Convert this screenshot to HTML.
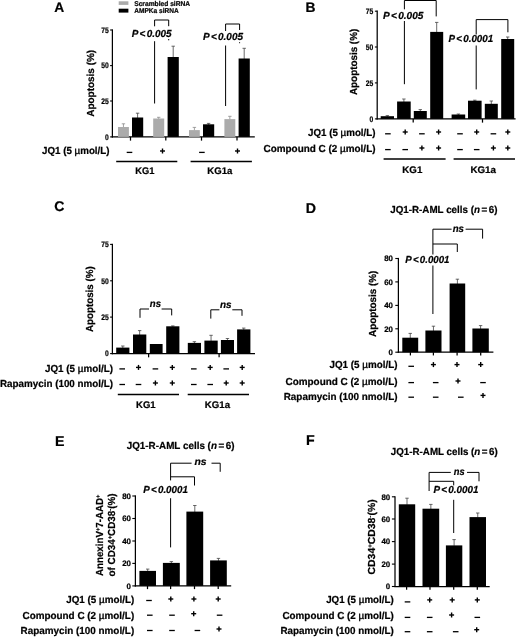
<!DOCTYPE html>
<html lang="en"><head><meta charset="utf-8"><title>Figure</title>
<style>
html,body{margin:0;padding:0;background:#fff;}
svg{display:block;}
text{font-family:"Liberation Sans", sans-serif;fill:#000;text-rendering:geometricPrecision;stroke:#000;stroke-width:0.22px;stroke-linejoin:round;}
</style></head>
<body>
<svg width="520" height="637" viewBox="0 0 520 637">
<rect x="0" y="0" width="520" height="637" fill="#fff"/>
<text x="54.20" y="12.20" font-size="13.8" font-weight="bold">A</text>
<rect x="118.70" y="1.30" width="9.70" height="3.60" fill="#ababab"/>
<rect x="118.70" y="8.70" width="9.70" height="3.90" fill="#000"/>
<text x="134.20" y="5.60" font-size="7" font-weight="bold" textLength="56.00" lengthAdjust="spacingAndGlyphs">Scrambled siRNA</text>
<text x="134.20" y="12.70" font-size="7" font-weight="bold" textLength="44.50" lengthAdjust="spacingAndGlyphs">AMPKa siRNA</text>
<line x1="112.40" y1="29.38" x2="112.40" y2="137.53" stroke="#000" stroke-width="1.25"/>
<line x1="111.78" y1="136.90" x2="254.80" y2="136.90" stroke="#000" stroke-width="1.25"/>
<line x1="110.10" y1="30.00" x2="112.40" y2="30.00" stroke="#000" stroke-width="1.1"/>
<text x="108.80" y="32.88" font-size="8" text-anchor="end" font-weight="bold" textLength="7.50" lengthAdjust="spacingAndGlyphs" stroke-width="0.1">75</text>
<line x1="110.10" y1="65.60" x2="112.40" y2="65.60" stroke="#000" stroke-width="1.1"/>
<text x="108.80" y="68.48" font-size="8" text-anchor="end" font-weight="bold" textLength="7.50" lengthAdjust="spacingAndGlyphs" stroke-width="0.1">50</text>
<line x1="110.10" y1="101.00" x2="112.40" y2="101.00" stroke="#000" stroke-width="1.1"/>
<text x="108.80" y="103.88" font-size="8" text-anchor="end" font-weight="bold" textLength="7.50" lengthAdjust="spacingAndGlyphs" stroke-width="0.1">25</text>
<line x1="110.10" y1="136.90" x2="112.40" y2="136.90" stroke="#000" stroke-width="1.1"/>
<text x="108.80" y="139.78" font-size="8" text-anchor="end" font-weight="bold" textLength="3.75" lengthAdjust="spacingAndGlyphs" stroke-width="0.1">0</text>
<line x1="130.50" y1="136.90" x2="130.50" y2="140.62" stroke="#000" stroke-width="1.25"/>
<line x1="165.80" y1="136.90" x2="165.80" y2="140.62" stroke="#000" stroke-width="1.25"/>
<line x1="201.50" y1="136.90" x2="201.50" y2="140.62" stroke="#000" stroke-width="1.25"/>
<line x1="237.00" y1="136.90" x2="237.00" y2="140.62" stroke="#000" stroke-width="1.25"/>
<text x="94.30" y="83.30" font-size="10.2" text-anchor="middle" font-weight="bold" textLength="66.90" lengthAdjust="spacingAndGlyphs" transform="rotate(-90 94.30 83.30)">Apoptosis (%)</text>
<line x1="123.45" y1="123.80" x2="123.45" y2="127.50" stroke="#8c8c8c" stroke-width="0.8"/>
<line x1="121.75" y1="123.80" x2="125.15" y2="123.80" stroke="#8c8c8c" stroke-width="0.8"/>
<rect x="118.00" y="127.00" width="10.90" height="9.90" fill="#ababab"/>
<line x1="137.60" y1="113.20" x2="137.60" y2="118.00" stroke="#444" stroke-width="0.8"/>
<line x1="135.90" y1="113.20" x2="139.30" y2="113.20" stroke="#444" stroke-width="0.8"/>
<rect x="132.00" y="117.50" width="11.20" height="19.40" fill="#000"/>
<line x1="158.70" y1="117.30" x2="158.70" y2="119.00" stroke="#8c8c8c" stroke-width="0.8"/>
<line x1="157.00" y1="117.30" x2="160.40" y2="117.30" stroke="#8c8c8c" stroke-width="0.8"/>
<rect x="153.20" y="118.50" width="11.00" height="18.40" fill="#ababab"/>
<line x1="173.20" y1="46.20" x2="173.20" y2="57.50" stroke="#444" stroke-width="0.8"/>
<line x1="171.50" y1="46.20" x2="174.90" y2="46.20" stroke="#444" stroke-width="0.8"/>
<rect x="167.60" y="57.00" width="11.20" height="79.90" fill="#000"/>
<line x1="194.40" y1="127.40" x2="194.40" y2="130.60" stroke="#8c8c8c" stroke-width="0.8"/>
<line x1="192.70" y1="127.40" x2="196.10" y2="127.40" stroke="#8c8c8c" stroke-width="0.8"/>
<rect x="189.00" y="130.10" width="10.80" height="6.80" fill="#ababab"/>
<line x1="208.60" y1="123.40" x2="208.60" y2="124.80" stroke="#444" stroke-width="0.8"/>
<line x1="206.90" y1="123.40" x2="210.30" y2="123.40" stroke="#444" stroke-width="0.8"/>
<rect x="203.00" y="124.30" width="11.20" height="12.60" fill="#000"/>
<line x1="229.85" y1="116.30" x2="229.85" y2="119.60" stroke="#8c8c8c" stroke-width="0.8"/>
<line x1="228.15" y1="116.30" x2="231.55" y2="116.30" stroke="#8c8c8c" stroke-width="0.8"/>
<rect x="224.40" y="119.10" width="10.90" height="17.80" fill="#ababab"/>
<line x1="244.20" y1="48.30" x2="244.20" y2="59.00" stroke="#444" stroke-width="0.8"/>
<line x1="242.50" y1="48.30" x2="245.90" y2="48.30" stroke="#444" stroke-width="0.8"/>
<rect x="238.60" y="58.50" width="11.20" height="78.40" fill="#000"/>
<polyline points="154.60,103.50 154.60,20.00 168.70,20.00 168.70,26.60" fill="none" stroke="#000" stroke-width="1.0"/>
<rect x="131.00" y="26.30" width="41.00" height="14.90" fill="#fff"/>
<text x="131.70" y="36.60" font-size="10.2" font-weight="bold" font-style="italic" textLength="39.80" lengthAdjust="spacingAndGlyphs">P<tspan dx="1.3">&lt;</tspan><tspan dx="1.3">0.005</tspan></text>
<rect x="168.20" y="39.00" width="1.00" height="1.30" fill="#000"/>
<polyline points="225.60,106.00 225.60,24.00 239.60,24.00 239.60,30.00" fill="none" stroke="#000" stroke-width="1.0"/>
<rect x="202.00" y="31.00" width="42.00" height="14.50" fill="#fff"/>
<text x="203.00" y="39.80" font-size="10.2" font-weight="bold" font-style="italic" textLength="40.00" lengthAdjust="spacingAndGlyphs">P<tspan dx="1.3">&lt;</tspan><tspan dx="1.3">0.005</tspan></text>
<rect x="239.10" y="42.20" width="1.00" height="1.00" fill="#000"/>
<text x="42.00" y="154.30" font-size="10.2" font-weight="bold" textLength="67.50" lengthAdjust="spacingAndGlyphs">JQ1 (5 <tspan font-weight="normal" stroke-width="0.4">µ</tspan>mol/L)</text>
<line x1="126.70" y1="152.40" x2="132.30" y2="152.40" stroke="#000" stroke-width="1.3"/>
<line x1="160.00" y1="151.00" x2="165.00" y2="151.00" stroke="#000" stroke-width="1.4"/>
<line x1="162.50" y1="148.50" x2="162.50" y2="153.50" stroke="#000" stroke-width="1.4"/>
<line x1="199.10" y1="152.40" x2="204.70" y2="152.40" stroke="#000" stroke-width="1.3"/>
<line x1="235.00" y1="151.00" x2="240.00" y2="151.00" stroke="#000" stroke-width="1.4"/>
<line x1="237.50" y1="148.50" x2="237.50" y2="153.50" stroke="#000" stroke-width="1.4"/>
<line x1="116.20" y1="161.50" x2="177.30" y2="161.50" stroke="#000" stroke-width="1.6"/>
<line x1="190.60" y1="161.50" x2="251.90" y2="161.50" stroke="#000" stroke-width="1.6"/>
<text x="135.20" y="173.70" font-size="9.6" font-weight="bold" textLength="19.20" lengthAdjust="spacingAndGlyphs">KG1</text>
<text x="207.30" y="173.70" font-size="9.6" font-weight="bold" textLength="25.00" lengthAdjust="spacingAndGlyphs">KG1a</text>
<text x="305.60" y="12.10" font-size="13.8" font-weight="bold">B</text>
<line x1="377.20" y1="10.57" x2="377.20" y2="119.53" stroke="#000" stroke-width="1.25"/>
<line x1="376.57" y1="118.90" x2="515.60" y2="118.90" stroke="#000" stroke-width="1.25"/>
<line x1="374.90" y1="11.20" x2="377.20" y2="11.20" stroke="#000" stroke-width="1.1"/>
<text x="373.30" y="14.08" font-size="8" text-anchor="end" font-weight="bold" textLength="7.50" lengthAdjust="spacingAndGlyphs" stroke-width="0.1">75</text>
<line x1="374.90" y1="47.00" x2="377.20" y2="47.00" stroke="#000" stroke-width="1.1"/>
<text x="373.30" y="49.88" font-size="8" text-anchor="end" font-weight="bold" textLength="7.50" lengthAdjust="spacingAndGlyphs" stroke-width="0.1">50</text>
<line x1="374.90" y1="82.90" x2="377.20" y2="82.90" stroke="#000" stroke-width="1.1"/>
<text x="373.30" y="85.78" font-size="8" text-anchor="end" font-weight="bold" textLength="7.50" lengthAdjust="spacingAndGlyphs" stroke-width="0.1">25</text>
<line x1="374.90" y1="118.90" x2="377.20" y2="118.90" stroke="#000" stroke-width="1.1"/>
<text x="373.30" y="121.78" font-size="8" text-anchor="end" font-weight="bold" textLength="3.75" lengthAdjust="spacingAndGlyphs" stroke-width="0.1">0</text>
<line x1="413.20" y1="118.90" x2="413.20" y2="122.62" stroke="#000" stroke-width="1.25"/>
<line x1="482.50" y1="118.90" x2="482.50" y2="122.62" stroke="#000" stroke-width="1.25"/>
<text x="357.30" y="61.90" font-size="10.2" text-anchor="middle" font-weight="bold" textLength="66.20" lengthAdjust="spacingAndGlyphs" transform="rotate(-90 357.30 61.90)">Apoptosis (%)</text>
<line x1="387.35" y1="115.60" x2="387.35" y2="116.70" stroke="#444" stroke-width="0.8"/>
<line x1="385.65" y1="115.60" x2="389.05" y2="115.60" stroke="#444" stroke-width="0.8"/>
<rect x="380.70" y="116.20" width="13.30" height="2.70" fill="#000"/>
<line x1="403.90" y1="99.00" x2="403.90" y2="102.00" stroke="#444" stroke-width="0.8"/>
<line x1="402.20" y1="99.00" x2="405.60" y2="99.00" stroke="#444" stroke-width="0.8"/>
<rect x="397.10" y="101.50" width="13.60" height="17.40" fill="#000"/>
<line x1="420.30" y1="109.60" x2="420.30" y2="111.50" stroke="#444" stroke-width="0.8"/>
<line x1="418.60" y1="109.60" x2="422.00" y2="109.60" stroke="#444" stroke-width="0.8"/>
<rect x="413.80" y="111.00" width="13.00" height="7.90" fill="#000"/>
<line x1="436.70" y1="22.40" x2="436.70" y2="32.40" stroke="#444" stroke-width="0.8"/>
<line x1="435.00" y1="22.40" x2="438.40" y2="22.40" stroke="#444" stroke-width="0.8"/>
<rect x="430.20" y="31.90" width="13.00" height="87.00" fill="#000"/>
<line x1="458.40" y1="114.00" x2="458.40" y2="115.00" stroke="#444" stroke-width="0.8"/>
<line x1="456.70" y1="114.00" x2="460.10" y2="114.00" stroke="#444" stroke-width="0.8"/>
<rect x="451.60" y="114.50" width="13.60" height="4.40" fill="#000"/>
<line x1="474.80" y1="100.20" x2="474.80" y2="101.20" stroke="#444" stroke-width="0.8"/>
<line x1="473.10" y1="100.20" x2="476.50" y2="100.20" stroke="#444" stroke-width="0.8"/>
<rect x="468.00" y="100.70" width="13.60" height="18.20" fill="#000"/>
<line x1="491.30" y1="101.00" x2="491.30" y2="104.30" stroke="#444" stroke-width="0.8"/>
<line x1="489.60" y1="101.00" x2="493.00" y2="101.00" stroke="#444" stroke-width="0.8"/>
<rect x="484.80" y="103.80" width="13.00" height="15.10" fill="#000"/>
<line x1="507.70" y1="37.00" x2="507.70" y2="39.50" stroke="#444" stroke-width="0.8"/>
<line x1="506.00" y1="37.00" x2="509.40" y2="37.00" stroke="#444" stroke-width="0.8"/>
<rect x="501.20" y="39.00" width="13.00" height="79.90" fill="#000"/>
<polyline points="404.40,84.20 404.40,0.50 436.20,0.50 436.20,16.40" fill="none" stroke="#000" stroke-width="1.0"/>
<rect x="382.00" y="9.30" width="42.50" height="11.70" fill="#fff"/>
<text x="383.00" y="18.70" font-size="10.2" font-weight="bold" font-style="italic" textLength="40.40" lengthAdjust="spacingAndGlyphs">P<tspan dx="1.3">&lt;</tspan><tspan dx="1.3">0.005</tspan></text>
<polyline points="476.20,89.40 476.20,19.60 507.90,19.60 507.90,32.30" fill="none" stroke="#000" stroke-width="1.0"/>
<rect x="447.50" y="34.50" width="46.50" height="11.00" fill="#fff"/>
<text x="448.50" y="42.40" font-size="10.2" font-weight="bold" font-style="italic" textLength="44.70" lengthAdjust="spacingAndGlyphs">P<tspan dx="1.3">&lt;</tspan><tspan dx="1.3">0.0001</tspan></text>
<text x="308.00" y="136.30" font-size="10.2" font-weight="bold" textLength="67.50" lengthAdjust="spacingAndGlyphs">JQ1 (5 <tspan font-weight="normal" stroke-width="0.4">µ</tspan>mol/L)</text>
<text x="263.50" y="151.80" font-size="10.2" font-weight="bold" textLength="112.00" lengthAdjust="spacingAndGlyphs">Compound C (2 <tspan font-weight="normal" stroke-width="0.4">µ</tspan>mol/L)</text>
<line x1="385.10" y1="133.80" x2="390.70" y2="133.80" stroke="#000" stroke-width="1.3"/>
<line x1="385.10" y1="149.60" x2="390.70" y2="149.60" stroke="#000" stroke-width="1.3"/>
<line x1="402.70" y1="132.00" x2="407.70" y2="132.00" stroke="#000" stroke-width="1.4"/>
<line x1="405.20" y1="129.50" x2="405.20" y2="134.50" stroke="#000" stroke-width="1.4"/>
<line x1="402.40" y1="149.60" x2="408.00" y2="149.60" stroke="#000" stroke-width="1.3"/>
<line x1="419.10" y1="133.80" x2="424.70" y2="133.80" stroke="#000" stroke-width="1.3"/>
<line x1="419.40" y1="148.00" x2="424.40" y2="148.00" stroke="#000" stroke-width="1.4"/>
<line x1="421.90" y1="145.50" x2="421.90" y2="150.50" stroke="#000" stroke-width="1.4"/>
<line x1="436.10" y1="132.00" x2="441.10" y2="132.00" stroke="#000" stroke-width="1.4"/>
<line x1="438.60" y1="129.50" x2="438.60" y2="134.50" stroke="#000" stroke-width="1.4"/>
<line x1="436.10" y1="148.00" x2="441.10" y2="148.00" stroke="#000" stroke-width="1.4"/>
<line x1="438.60" y1="145.50" x2="438.60" y2="150.50" stroke="#000" stroke-width="1.4"/>
<line x1="457.20" y1="133.80" x2="462.80" y2="133.80" stroke="#000" stroke-width="1.3"/>
<line x1="457.20" y1="149.60" x2="462.80" y2="149.60" stroke="#000" stroke-width="1.3"/>
<line x1="474.20" y1="132.00" x2="479.20" y2="132.00" stroke="#000" stroke-width="1.4"/>
<line x1="476.70" y1="129.50" x2="476.70" y2="134.50" stroke="#000" stroke-width="1.4"/>
<line x1="473.90" y1="149.60" x2="479.50" y2="149.60" stroke="#000" stroke-width="1.3"/>
<line x1="490.60" y1="133.80" x2="496.20" y2="133.80" stroke="#000" stroke-width="1.3"/>
<line x1="490.90" y1="148.00" x2="495.90" y2="148.00" stroke="#000" stroke-width="1.4"/>
<line x1="493.40" y1="145.50" x2="493.40" y2="150.50" stroke="#000" stroke-width="1.4"/>
<line x1="505.30" y1="132.00" x2="510.30" y2="132.00" stroke="#000" stroke-width="1.4"/>
<line x1="507.80" y1="129.50" x2="507.80" y2="134.50" stroke="#000" stroke-width="1.4"/>
<line x1="505.30" y1="148.00" x2="510.30" y2="148.00" stroke="#000" stroke-width="1.4"/>
<line x1="507.80" y1="145.50" x2="507.80" y2="150.50" stroke="#000" stroke-width="1.4"/>
<line x1="383.60" y1="159.00" x2="445.60" y2="159.00" stroke="#000" stroke-width="1.5"/>
<line x1="453.60" y1="159.00" x2="515.00" y2="159.00" stroke="#000" stroke-width="1.5"/>
<text x="402.30" y="172.90" font-size="9.6" font-weight="bold" textLength="20.00" lengthAdjust="spacingAndGlyphs">KG1</text>
<text x="470.40" y="172.90" font-size="9.6" font-weight="bold" textLength="25.60" lengthAdjust="spacingAndGlyphs">KG1a</text>
<text x="54.30" y="210.70" font-size="14.0" font-weight="bold">C</text>
<line x1="112.40" y1="243.78" x2="112.40" y2="354.23" stroke="#000" stroke-width="1.25"/>
<line x1="111.78" y1="353.60" x2="255.00" y2="353.60" stroke="#000" stroke-width="1.25"/>
<line x1="110.10" y1="244.40" x2="112.40" y2="244.40" stroke="#000" stroke-width="1.1"/>
<text x="108.80" y="247.28" font-size="8" text-anchor="end" font-weight="bold" textLength="7.50" lengthAdjust="spacingAndGlyphs" stroke-width="0.1">75</text>
<line x1="110.10" y1="280.80" x2="112.40" y2="280.80" stroke="#000" stroke-width="1.1"/>
<text x="108.80" y="283.68" font-size="8" text-anchor="end" font-weight="bold" textLength="7.50" lengthAdjust="spacingAndGlyphs" stroke-width="0.1">50</text>
<line x1="110.10" y1="317.10" x2="112.40" y2="317.10" stroke="#000" stroke-width="1.1"/>
<text x="108.80" y="319.98" font-size="8" text-anchor="end" font-weight="bold" textLength="7.50" lengthAdjust="spacingAndGlyphs" stroke-width="0.1">25</text>
<line x1="110.10" y1="353.60" x2="112.40" y2="353.60" stroke="#000" stroke-width="1.1"/>
<text x="108.80" y="356.48" font-size="8" text-anchor="end" font-weight="bold" textLength="3.75" lengthAdjust="spacingAndGlyphs" stroke-width="0.1">0</text>
<line x1="148.60" y1="353.60" x2="148.60" y2="357.33" stroke="#000" stroke-width="1.25"/>
<line x1="219.10" y1="353.60" x2="219.10" y2="357.33" stroke="#000" stroke-width="1.25"/>
<text x="92.90" y="299.20" font-size="10.2" text-anchor="middle" font-weight="bold" textLength="65.80" lengthAdjust="spacingAndGlyphs" transform="rotate(-90 92.90 299.20)">Apoptosis (%)</text>
<line x1="122.80" y1="346.00" x2="122.80" y2="348.10" stroke="#444" stroke-width="0.8"/>
<line x1="121.10" y1="346.00" x2="124.50" y2="346.00" stroke="#444" stroke-width="0.8"/>
<rect x="116.20" y="347.60" width="13.20" height="6.00" fill="#000"/>
<line x1="139.65" y1="330.60" x2="139.65" y2="335.00" stroke="#444" stroke-width="0.8"/>
<line x1="137.95" y1="330.60" x2="141.35" y2="330.60" stroke="#444" stroke-width="0.8"/>
<rect x="133.00" y="334.50" width="13.30" height="19.10" fill="#000"/>
<rect x="149.80" y="344.00" width="12.80" height="9.60" fill="#000"/>
<line x1="172.80" y1="325.90" x2="172.80" y2="326.80" stroke="#444" stroke-width="0.8"/>
<line x1="171.10" y1="325.90" x2="174.50" y2="325.90" stroke="#444" stroke-width="0.8"/>
<rect x="166.20" y="326.30" width="13.20" height="27.30" fill="#000"/>
<line x1="194.40" y1="341.70" x2="194.40" y2="343.40" stroke="#444" stroke-width="0.8"/>
<line x1="192.70" y1="341.70" x2="196.10" y2="341.70" stroke="#444" stroke-width="0.8"/>
<rect x="187.80" y="342.90" width="13.20" height="10.70" fill="#000"/>
<line x1="211.05" y1="335.30" x2="211.05" y2="341.10" stroke="#444" stroke-width="0.8"/>
<line x1="209.35" y1="335.30" x2="212.75" y2="335.30" stroke="#444" stroke-width="0.8"/>
<rect x="204.40" y="340.60" width="13.30" height="13.00" fill="#000"/>
<line x1="227.45" y1="338.50" x2="227.45" y2="340.50" stroke="#444" stroke-width="0.8"/>
<line x1="225.75" y1="338.50" x2="229.15" y2="338.50" stroke="#444" stroke-width="0.8"/>
<rect x="220.90" y="340.00" width="13.10" height="13.60" fill="#000"/>
<line x1="243.75" y1="328.10" x2="243.75" y2="329.90" stroke="#444" stroke-width="0.8"/>
<line x1="242.05" y1="328.10" x2="245.45" y2="328.10" stroke="#444" stroke-width="0.8"/>
<rect x="237.10" y="329.40" width="13.30" height="24.20" fill="#000"/>
<polyline points="140.00,317.80 140.00,309.00 149.00,309.00" fill="none" stroke="#000" stroke-width="1.0"/>
<polyline points="161.60,309.00 171.70,309.00 171.70,315.40" fill="none" stroke="#000" stroke-width="1.0"/>
<text x="149.80" y="307.40" font-size="10.2" font-weight="bold" font-style="italic" textLength="11.20" lengthAdjust="spacingAndGlyphs">ns</text>
<polyline points="210.80,318.60 210.80,309.80 219.40,309.80" fill="none" stroke="#000" stroke-width="1.0"/>
<polyline points="232.30,309.80 242.00,309.80 242.00,315.80" fill="none" stroke="#000" stroke-width="1.0"/>
<text x="220.00" y="308.30" font-size="10.2" font-weight="bold" font-style="italic" textLength="11.60" lengthAdjust="spacingAndGlyphs">ns</text>
<text x="45.00" y="371.60" font-size="10.2" font-weight="bold" textLength="68.00" lengthAdjust="spacingAndGlyphs">JQ1 (5 <tspan font-weight="normal" stroke-width="0.4">µ</tspan>mol/L)</text>
<text x="0.00" y="387.00" font-size="10.2" font-weight="bold" textLength="113.00" lengthAdjust="spacingAndGlyphs">Rapamycin (100 nmol/L)</text>
<line x1="119.40" y1="368.90" x2="125.00" y2="368.90" stroke="#000" stroke-width="1.3"/>
<line x1="119.40" y1="384.50" x2="125.00" y2="384.50" stroke="#000" stroke-width="1.3"/>
<line x1="136.00" y1="367.40" x2="141.00" y2="367.40" stroke="#000" stroke-width="1.4"/>
<line x1="138.50" y1="364.90" x2="138.50" y2="369.90" stroke="#000" stroke-width="1.4"/>
<line x1="135.70" y1="384.50" x2="141.30" y2="384.50" stroke="#000" stroke-width="1.3"/>
<line x1="152.60" y1="368.90" x2="158.20" y2="368.90" stroke="#000" stroke-width="1.3"/>
<line x1="152.90" y1="383.00" x2="157.90" y2="383.00" stroke="#000" stroke-width="1.4"/>
<line x1="155.40" y1="380.50" x2="155.40" y2="385.50" stroke="#000" stroke-width="1.4"/>
<line x1="169.80" y1="367.40" x2="174.80" y2="367.40" stroke="#000" stroke-width="1.4"/>
<line x1="172.30" y1="364.90" x2="172.30" y2="369.90" stroke="#000" stroke-width="1.4"/>
<line x1="169.80" y1="383.00" x2="174.80" y2="383.00" stroke="#000" stroke-width="1.4"/>
<line x1="172.30" y1="380.50" x2="172.30" y2="385.50" stroke="#000" stroke-width="1.4"/>
<line x1="191.00" y1="368.90" x2="196.60" y2="368.90" stroke="#000" stroke-width="1.3"/>
<line x1="191.00" y1="384.50" x2="196.60" y2="384.50" stroke="#000" stroke-width="1.3"/>
<line x1="207.70" y1="367.40" x2="212.70" y2="367.40" stroke="#000" stroke-width="1.4"/>
<line x1="210.20" y1="364.90" x2="210.20" y2="369.90" stroke="#000" stroke-width="1.4"/>
<line x1="207.40" y1="384.50" x2="213.00" y2="384.50" stroke="#000" stroke-width="1.3"/>
<line x1="223.40" y1="368.90" x2="229.00" y2="368.90" stroke="#000" stroke-width="1.3"/>
<line x1="223.70" y1="383.00" x2="228.70" y2="383.00" stroke="#000" stroke-width="1.4"/>
<line x1="226.20" y1="380.50" x2="226.20" y2="385.50" stroke="#000" stroke-width="1.4"/>
<line x1="239.70" y1="367.40" x2="244.70" y2="367.40" stroke="#000" stroke-width="1.4"/>
<line x1="242.20" y1="364.90" x2="242.20" y2="369.90" stroke="#000" stroke-width="1.4"/>
<line x1="239.70" y1="383.00" x2="244.70" y2="383.00" stroke="#000" stroke-width="1.4"/>
<line x1="242.20" y1="380.50" x2="242.20" y2="385.50" stroke="#000" stroke-width="1.4"/>
<line x1="117.80" y1="394.40" x2="179.00" y2="394.40" stroke="#000" stroke-width="1.5"/>
<line x1="187.70" y1="394.40" x2="249.00" y2="394.40" stroke="#000" stroke-width="1.5"/>
<text x="136.00" y="407.70" font-size="9.6" font-weight="bold" textLength="19.60" lengthAdjust="spacingAndGlyphs">KG1</text>
<text x="204.80" y="407.70" font-size="9.6" font-weight="bold" textLength="25.20" lengthAdjust="spacingAndGlyphs">KG1a</text>
<text x="305.70" y="212.80" font-size="14.2" font-weight="bold">D</text>
<text x="390.20" y="213.00" font-size="10.2" font-weight="bold" textLength="107.30" lengthAdjust="spacingAndGlyphs">JQ1-R-AML cells (<tspan font-style="italic">n</tspan><tspan dx="1.6">=</tspan><tspan dx="1.6">6)</tspan></text>
<line x1="398.40" y1="257.88" x2="398.40" y2="352.82" stroke="#000" stroke-width="1.25"/>
<line x1="397.77" y1="352.20" x2="493.40" y2="352.20" stroke="#000" stroke-width="1.25"/>
<line x1="395.30" y1="258.50" x2="398.40" y2="258.50" stroke="#000" stroke-width="1.1"/>
<text x="393.00" y="261.34" font-size="7.9" text-anchor="end" font-weight="bold" stroke-width="0.1">80</text>
<line x1="395.30" y1="281.90" x2="398.40" y2="281.90" stroke="#000" stroke-width="1.1"/>
<text x="393.00" y="284.74" font-size="7.9" text-anchor="end" font-weight="bold" stroke-width="0.1">60</text>
<line x1="395.30" y1="305.40" x2="398.40" y2="305.40" stroke="#000" stroke-width="1.1"/>
<text x="393.00" y="308.24" font-size="7.9" text-anchor="end" font-weight="bold" stroke-width="0.1">40</text>
<line x1="395.30" y1="328.80" x2="398.40" y2="328.80" stroke="#000" stroke-width="1.1"/>
<text x="393.00" y="331.64" font-size="7.9" text-anchor="end" font-weight="bold" stroke-width="0.1">20</text>
<line x1="395.30" y1="352.20" x2="398.40" y2="352.20" stroke="#000" stroke-width="1.1"/>
<text x="393.00" y="355.04" font-size="7.9" text-anchor="end" font-weight="bold" stroke-width="0.1">0</text>
<line x1="410.40" y1="352.20" x2="410.40" y2="355.43" stroke="#000" stroke-width="1.25"/>
<line x1="433.40" y1="352.20" x2="433.40" y2="355.43" stroke="#000" stroke-width="1.25"/>
<line x1="457.10" y1="352.20" x2="457.10" y2="355.43" stroke="#000" stroke-width="1.25"/>
<line x1="480.70" y1="352.20" x2="480.70" y2="355.43" stroke="#000" stroke-width="1.25"/>
<text x="375.70" y="303.80" font-size="10.2" text-anchor="middle" font-weight="bold" textLength="66.40" lengthAdjust="spacingAndGlyphs" transform="rotate(-90 375.70 303.80)">Apoptosis (%)</text>
<line x1="410.25" y1="333.40" x2="410.25" y2="338.20" stroke="#444" stroke-width="0.8"/>
<line x1="408.55" y1="333.40" x2="411.95" y2="333.40" stroke="#444" stroke-width="0.8"/>
<rect x="402.30" y="337.70" width="15.90" height="14.50" fill="#000"/>
<line x1="433.45" y1="326.20" x2="433.45" y2="331.00" stroke="#444" stroke-width="0.8"/>
<line x1="431.75" y1="326.20" x2="435.15" y2="326.20" stroke="#444" stroke-width="0.8"/>
<rect x="425.40" y="330.50" width="16.10" height="21.70" fill="#000"/>
<line x1="457.40" y1="279.20" x2="457.40" y2="284.00" stroke="#444" stroke-width="0.8"/>
<line x1="455.70" y1="279.20" x2="459.10" y2="279.20" stroke="#444" stroke-width="0.8"/>
<rect x="449.60" y="283.50" width="15.60" height="68.70" fill="#000"/>
<line x1="480.60" y1="325.60" x2="480.60" y2="329.00" stroke="#444" stroke-width="0.8"/>
<line x1="478.90" y1="325.60" x2="482.30" y2="325.60" stroke="#444" stroke-width="0.8"/>
<rect x="472.40" y="328.50" width="16.40" height="23.70" fill="#000"/>
<polyline points="432.90,314.00 432.90,229.20 451.60,229.20" fill="none" stroke="#000" stroke-width="1.0"/>
<polyline points="465.60,229.20 482.60,229.20 482.60,238.60" fill="none" stroke="#000" stroke-width="1.0"/>
<polyline points="432.90,244.00 457.30,244.00 457.30,252.00" fill="none" stroke="#000" stroke-width="1.0"/>
<text x="452.70" y="231.60" font-size="10.2" font-weight="bold" font-style="italic" textLength="11.30" lengthAdjust="spacingAndGlyphs">ns</text>
<rect x="404.50" y="254.50" width="45.50" height="11.00" fill="#fff"/>
<text x="405.20" y="263.30" font-size="10.2" font-weight="bold" font-style="italic" textLength="44.30" lengthAdjust="spacingAndGlyphs">P<tspan dx="1.3">&lt;</tspan><tspan dx="1.3">0.0001</tspan></text>
<text x="329.50" y="368.30" font-size="10.2" font-weight="bold" textLength="68.00" lengthAdjust="spacingAndGlyphs">JQ1 (5 <tspan font-weight="normal" stroke-width="0.4">µ</tspan>mol/L)</text>
<text x="285.50" y="384.50" font-size="10.2" font-weight="bold" textLength="112.00" lengthAdjust="spacingAndGlyphs">Compound C (2 <tspan font-weight="normal" stroke-width="0.4">µ</tspan>mol/L)</text>
<text x="283.70" y="400.40" font-size="10.2" font-weight="bold" textLength="113.80" lengthAdjust="spacingAndGlyphs">Rapamycin (100 nmol/L)</text>
<line x1="408.40" y1="366.30" x2="414.00" y2="366.30" stroke="#000" stroke-width="1.3"/>
<line x1="430.90" y1="364.60" x2="435.90" y2="364.60" stroke="#000" stroke-width="1.4"/>
<line x1="433.40" y1="362.10" x2="433.40" y2="367.10" stroke="#000" stroke-width="1.4"/>
<line x1="454.50" y1="364.60" x2="459.50" y2="364.60" stroke="#000" stroke-width="1.4"/>
<line x1="457.00" y1="362.10" x2="457.00" y2="367.10" stroke="#000" stroke-width="1.4"/>
<line x1="478.20" y1="364.60" x2="483.20" y2="364.60" stroke="#000" stroke-width="1.4"/>
<line x1="480.70" y1="362.10" x2="480.70" y2="367.10" stroke="#000" stroke-width="1.4"/>
<line x1="408.40" y1="382.60" x2="414.00" y2="382.60" stroke="#000" stroke-width="1.3"/>
<line x1="432.90" y1="382.60" x2="438.50" y2="382.60" stroke="#000" stroke-width="1.3"/>
<line x1="455.50" y1="381.00" x2="460.50" y2="381.00" stroke="#000" stroke-width="1.4"/>
<line x1="458.00" y1="378.50" x2="458.00" y2="383.50" stroke="#000" stroke-width="1.4"/>
<line x1="480.20" y1="382.60" x2="485.80" y2="382.60" stroke="#000" stroke-width="1.3"/>
<line x1="408.40" y1="397.20" x2="414.00" y2="397.20" stroke="#000" stroke-width="1.3"/>
<line x1="432.90" y1="397.20" x2="438.50" y2="397.20" stroke="#000" stroke-width="1.3"/>
<line x1="458.00" y1="397.20" x2="463.60" y2="397.20" stroke="#000" stroke-width="1.3"/>
<line x1="480.50" y1="395.40" x2="485.50" y2="395.40" stroke="#000" stroke-width="1.4"/>
<line x1="483.00" y1="392.90" x2="483.00" y2="397.90" stroke="#000" stroke-width="1.4"/>
<text x="55.00" y="445.80" font-size="14.2" font-weight="bold">E</text>
<text x="126.70" y="448.50" font-size="10.2" font-weight="bold" textLength="107.90" lengthAdjust="spacingAndGlyphs">JQ1-R-AML cells (<tspan font-style="italic">n</tspan><tspan dx="1.6">=</tspan><tspan dx="1.6">6)</tspan></text>
<line x1="135.40" y1="495.38" x2="135.40" y2="586.52" stroke="#000" stroke-width="1.25"/>
<line x1="134.78" y1="585.90" x2="231.20" y2="585.90" stroke="#000" stroke-width="1.25"/>
<line x1="132.30" y1="496.00" x2="135.40" y2="496.00" stroke="#000" stroke-width="1.1"/>
<text x="131.00" y="498.84" font-size="7.9" text-anchor="end" font-weight="bold" stroke-width="0.1">80</text>
<line x1="132.30" y1="518.50" x2="135.40" y2="518.50" stroke="#000" stroke-width="1.1"/>
<text x="131.00" y="521.34" font-size="7.9" text-anchor="end" font-weight="bold" stroke-width="0.1">60</text>
<line x1="132.30" y1="541.00" x2="135.40" y2="541.00" stroke="#000" stroke-width="1.1"/>
<text x="131.00" y="543.84" font-size="7.9" text-anchor="end" font-weight="bold" stroke-width="0.1">40</text>
<line x1="132.30" y1="563.40" x2="135.40" y2="563.40" stroke="#000" stroke-width="1.1"/>
<text x="131.00" y="566.24" font-size="7.9" text-anchor="end" font-weight="bold" stroke-width="0.1">20</text>
<line x1="132.30" y1="585.90" x2="135.40" y2="585.90" stroke="#000" stroke-width="1.1"/>
<text x="131.00" y="588.74" font-size="7.9" text-anchor="end" font-weight="bold" stroke-width="0.1">0</text>
<line x1="147.50" y1="585.90" x2="147.50" y2="589.12" stroke="#000" stroke-width="1.25"/>
<line x1="170.60" y1="585.90" x2="170.60" y2="589.12" stroke="#000" stroke-width="1.25"/>
<line x1="194.50" y1="585.90" x2="194.50" y2="589.12" stroke="#000" stroke-width="1.25"/>
<line x1="218.20" y1="585.90" x2="218.20" y2="589.12" stroke="#000" stroke-width="1.25"/>
<text x="103.40" y="535.30" font-size="10.2" text-anchor="middle" font-weight="bold" textLength="81.40" lengthAdjust="spacingAndGlyphs" transform="rotate(-90 103.40 535.30)">AnnexinV<tspan baseline-shift="super" font-size="6">+</tspan>7-AAD<tspan baseline-shift="super" font-size="6">+</tspan></text>
<text x="114.60" y="535.00" font-size="10.2" text-anchor="middle" font-weight="bold" textLength="83.00" lengthAdjust="spacingAndGlyphs" transform="rotate(-90 114.60 535.00)">of CD34<tspan baseline-shift="super" font-size="6">+</tspan>CD38<tspan baseline-shift="super" font-size="6">-</tspan>(%)</text>
<line x1="147.70" y1="569.10" x2="147.70" y2="571.40" stroke="#444" stroke-width="0.8"/>
<line x1="146.00" y1="569.10" x2="149.40" y2="569.10" stroke="#444" stroke-width="0.8"/>
<rect x="139.40" y="570.90" width="16.60" height="15.00" fill="#000"/>
<line x1="171.35" y1="561.60" x2="171.35" y2="563.40" stroke="#444" stroke-width="0.8"/>
<line x1="169.65" y1="561.60" x2="173.05" y2="561.60" stroke="#444" stroke-width="0.8"/>
<rect x="162.90" y="562.90" width="16.90" height="23.00" fill="#000"/>
<line x1="194.80" y1="505.50" x2="194.80" y2="512.10" stroke="#444" stroke-width="0.8"/>
<line x1="193.10" y1="505.50" x2="196.50" y2="505.50" stroke="#444" stroke-width="0.8"/>
<rect x="186.40" y="511.60" width="16.80" height="74.30" fill="#000"/>
<line x1="218.45" y1="558.40" x2="218.45" y2="560.90" stroke="#444" stroke-width="0.8"/>
<line x1="216.75" y1="558.40" x2="220.15" y2="558.40" stroke="#444" stroke-width="0.8"/>
<rect x="210.10" y="560.40" width="16.70" height="25.50" fill="#000"/>
<polyline points="170.60,547.40 170.60,463.20 191.60,463.20" fill="none" stroke="#000" stroke-width="1.0"/>
<polyline points="211.50,463.20 220.20,463.20 220.20,471.80" fill="none" stroke="#000" stroke-width="1.0"/>
<polyline points="170.60,476.80 194.50,476.80 194.50,485.50" fill="none" stroke="#000" stroke-width="1.0"/>
<text x="194.50" y="464.50" font-size="10.2" font-weight="bold" font-style="italic" textLength="12.10" lengthAdjust="spacingAndGlyphs">ns</text>
<rect x="142.50" y="480.40" width="46.10" height="17.80" fill="#fff"/>
<text x="143.20" y="492.60" font-size="10.2" font-weight="bold" font-style="italic" textLength="44.70" lengthAdjust="spacingAndGlyphs">P<tspan dx="1.3">&lt;</tspan><tspan dx="1.3">0.0001</tspan></text>
<text x="66.20" y="603.00" font-size="10.2" font-weight="bold" textLength="68.00" lengthAdjust="spacingAndGlyphs">JQ1 (5 <tspan font-weight="normal" stroke-width="0.4">µ</tspan>mol/L)</text>
<text x="22.50" y="618.50" font-size="10.2" font-weight="bold" textLength="111.70" lengthAdjust="spacingAndGlyphs">Compound C (2 <tspan font-weight="normal" stroke-width="0.4">µ</tspan>mol/L)</text>
<text x="20.50" y="633.90" font-size="10.2" font-weight="bold" textLength="113.70" lengthAdjust="spacingAndGlyphs">Rapamycin (100 nmol/L)</text>
<line x1="146.20" y1="600.50" x2="151.80" y2="600.50" stroke="#000" stroke-width="1.3"/>
<line x1="168.30" y1="599.00" x2="173.30" y2="599.00" stroke="#000" stroke-width="1.4"/>
<line x1="170.80" y1="596.50" x2="170.80" y2="601.50" stroke="#000" stroke-width="1.4"/>
<line x1="191.40" y1="599.00" x2="196.40" y2="599.00" stroke="#000" stroke-width="1.4"/>
<line x1="193.90" y1="596.50" x2="193.90" y2="601.50" stroke="#000" stroke-width="1.4"/>
<line x1="215.70" y1="599.00" x2="220.70" y2="599.00" stroke="#000" stroke-width="1.4"/>
<line x1="218.20" y1="596.50" x2="218.20" y2="601.50" stroke="#000" stroke-width="1.4"/>
<line x1="147.00" y1="615.20" x2="152.60" y2="615.20" stroke="#000" stroke-width="1.3"/>
<line x1="169.20" y1="615.20" x2="174.80" y2="615.20" stroke="#000" stroke-width="1.3"/>
<line x1="191.20" y1="613.70" x2="196.20" y2="613.70" stroke="#000" stroke-width="1.4"/>
<line x1="193.70" y1="611.20" x2="193.70" y2="616.20" stroke="#000" stroke-width="1.4"/>
<line x1="216.80" y1="615.20" x2="222.40" y2="615.20" stroke="#000" stroke-width="1.3"/>
<line x1="147.00" y1="630.50" x2="152.60" y2="630.50" stroke="#000" stroke-width="1.3"/>
<line x1="169.20" y1="630.50" x2="174.80" y2="630.50" stroke="#000" stroke-width="1.3"/>
<line x1="194.60" y1="630.50" x2="200.20" y2="630.50" stroke="#000" stroke-width="1.3"/>
<line x1="216.50" y1="629.00" x2="221.50" y2="629.00" stroke="#000" stroke-width="1.4"/>
<line x1="219.00" y1="626.50" x2="219.00" y2="631.50" stroke="#000" stroke-width="1.4"/>
<text x="305.90" y="445.30" font-size="14.2" font-weight="bold">F</text>
<text x="390.80" y="454.70" font-size="10.2" font-weight="bold" textLength="107.00" lengthAdjust="spacingAndGlyphs">JQ1-R-AML cells (<tspan font-style="italic">n</tspan><tspan dx="1.6">=</tspan><tspan dx="1.6">6)</tspan></text>
<line x1="395.00" y1="496.18" x2="395.00" y2="587.12" stroke="#000" stroke-width="1.25"/>
<line x1="394.38" y1="586.50" x2="489.70" y2="586.50" stroke="#000" stroke-width="1.25"/>
<line x1="391.90" y1="496.80" x2="395.00" y2="496.80" stroke="#000" stroke-width="1.1"/>
<text x="390.20" y="499.64" font-size="7.9" text-anchor="end" font-weight="bold" stroke-width="0.1">80</text>
<line x1="391.90" y1="519.00" x2="395.00" y2="519.00" stroke="#000" stroke-width="1.1"/>
<text x="390.20" y="521.84" font-size="7.9" text-anchor="end" font-weight="bold" stroke-width="0.1">60</text>
<line x1="391.90" y1="541.60" x2="395.00" y2="541.60" stroke="#000" stroke-width="1.1"/>
<text x="390.20" y="544.44" font-size="7.9" text-anchor="end" font-weight="bold" stroke-width="0.1">40</text>
<line x1="391.90" y1="564.10" x2="395.00" y2="564.10" stroke="#000" stroke-width="1.1"/>
<text x="390.20" y="566.94" font-size="7.9" text-anchor="end" font-weight="bold" stroke-width="0.1">20</text>
<line x1="391.90" y1="586.50" x2="395.00" y2="586.50" stroke="#000" stroke-width="1.1"/>
<text x="390.20" y="589.34" font-size="7.9" text-anchor="end" font-weight="bold" stroke-width="0.1">0</text>
<line x1="406.60" y1="586.50" x2="406.60" y2="589.73" stroke="#000" stroke-width="1.25"/>
<line x1="430.00" y1="586.50" x2="430.00" y2="589.73" stroke="#000" stroke-width="1.25"/>
<line x1="453.70" y1="586.50" x2="453.70" y2="589.73" stroke="#000" stroke-width="1.25"/>
<line x1="477.30" y1="586.50" x2="477.30" y2="589.73" stroke="#000" stroke-width="1.25"/>
<text x="375.00" y="536.90" font-size="10.2" text-anchor="middle" font-weight="bold" textLength="75.00" lengthAdjust="spacingAndGlyphs" transform="rotate(-90 375.00 536.90)">CD34<tspan baseline-shift="super" font-size="6">+</tspan>CD38<tspan baseline-shift="super" font-size="6">-</tspan>(%)</text>
<line x1="407.00" y1="498.20" x2="407.00" y2="504.80" stroke="#444" stroke-width="0.8"/>
<line x1="405.30" y1="498.20" x2="408.70" y2="498.20" stroke="#444" stroke-width="0.8"/>
<rect x="398.80" y="504.30" width="16.40" height="82.20" fill="#000"/>
<line x1="430.85" y1="504.40" x2="430.85" y2="509.20" stroke="#444" stroke-width="0.8"/>
<line x1="429.15" y1="504.40" x2="432.55" y2="504.40" stroke="#444" stroke-width="0.8"/>
<rect x="422.50" y="508.70" width="16.70" height="77.80" fill="#000"/>
<line x1="454.10" y1="539.60" x2="454.10" y2="545.90" stroke="#444" stroke-width="0.8"/>
<line x1="452.40" y1="539.60" x2="455.80" y2="539.60" stroke="#444" stroke-width="0.8"/>
<rect x="445.90" y="545.40" width="16.40" height="41.10" fill="#000"/>
<line x1="477.75" y1="513.00" x2="477.75" y2="517.60" stroke="#444" stroke-width="0.8"/>
<line x1="476.05" y1="513.00" x2="479.45" y2="513.00" stroke="#444" stroke-width="0.8"/>
<rect x="469.50" y="517.10" width="16.50" height="69.40" fill="#000"/>
<polyline points="429.10,491.00 429.10,472.40 450.80,472.40" fill="none" stroke="#000" stroke-width="1.0"/>
<polyline points="467.00,472.40 479.00,472.40 479.00,481.30" fill="none" stroke="#000" stroke-width="1.0"/>
<polyline points="429.10,481.30 453.70,481.30 453.70,533.00" fill="none" stroke="#000" stroke-width="1.0"/>
<text x="453.70" y="474.70" font-size="10.2" font-weight="bold" font-style="italic" textLength="10.90" lengthAdjust="spacingAndGlyphs">ns</text>
<rect x="432.80" y="485.40" width="47.00" height="14.40" fill="#fff"/>
<text x="433.50" y="492.90" font-size="10.2" font-weight="bold" font-style="italic" textLength="45.00" lengthAdjust="spacingAndGlyphs">P<tspan dx="1.3">&lt;</tspan><tspan dx="1.3">0.0001</tspan></text>
<text x="326.20" y="603.40" font-size="10.2" font-weight="bold" textLength="67.50" lengthAdjust="spacingAndGlyphs">JQ1 (5 <tspan font-weight="normal" stroke-width="0.4">µ</tspan>mol/L)</text>
<text x="282.50" y="618.70" font-size="10.2" font-weight="bold" textLength="111.20" lengthAdjust="spacingAndGlyphs">Compound C (2 <tspan font-weight="normal" stroke-width="0.4">µ</tspan>mol/L)</text>
<text x="280.50" y="634.20" font-size="10.2" font-weight="bold" textLength="113.20" lengthAdjust="spacingAndGlyphs">Rapamycin (100 nmol/L)</text>
<line x1="404.70" y1="601.90" x2="410.30" y2="601.90" stroke="#000" stroke-width="1.3"/>
<line x1="427.20" y1="599.90" x2="432.20" y2="599.90" stroke="#000" stroke-width="1.4"/>
<line x1="429.70" y1="597.40" x2="429.70" y2="602.40" stroke="#000" stroke-width="1.4"/>
<line x1="449.70" y1="599.90" x2="454.70" y2="599.90" stroke="#000" stroke-width="1.4"/>
<line x1="452.20" y1="597.40" x2="452.20" y2="602.40" stroke="#000" stroke-width="1.4"/>
<line x1="474.80" y1="599.90" x2="479.80" y2="599.90" stroke="#000" stroke-width="1.4"/>
<line x1="477.30" y1="597.40" x2="477.30" y2="602.40" stroke="#000" stroke-width="1.4"/>
<line x1="404.70" y1="617.40" x2="410.30" y2="617.40" stroke="#000" stroke-width="1.3"/>
<line x1="426.90" y1="617.40" x2="432.50" y2="617.40" stroke="#000" stroke-width="1.3"/>
<line x1="449.10" y1="615.00" x2="454.10" y2="615.00" stroke="#000" stroke-width="1.4"/>
<line x1="451.60" y1="612.50" x2="451.60" y2="617.50" stroke="#000" stroke-width="1.4"/>
<line x1="474.50" y1="617.40" x2="480.10" y2="617.40" stroke="#000" stroke-width="1.3"/>
<line x1="404.70" y1="631.70" x2="410.30" y2="631.70" stroke="#000" stroke-width="1.3"/>
<line x1="426.90" y1="631.70" x2="432.50" y2="631.70" stroke="#000" stroke-width="1.3"/>
<line x1="452.90" y1="631.70" x2="458.50" y2="631.70" stroke="#000" stroke-width="1.3"/>
<line x1="474.20" y1="629.70" x2="479.20" y2="629.70" stroke="#000" stroke-width="1.4"/>
<line x1="476.70" y1="627.20" x2="476.70" y2="632.20" stroke="#000" stroke-width="1.4"/>
</svg>
</body></html>
